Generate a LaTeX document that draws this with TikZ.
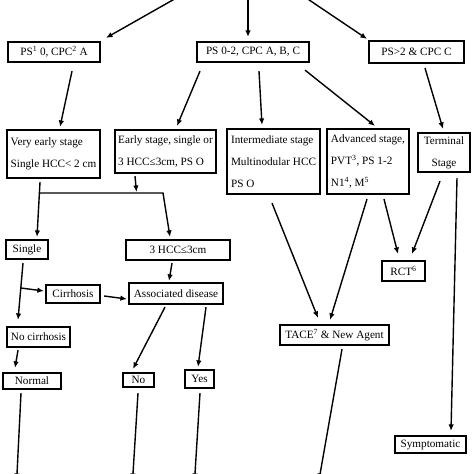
\documentclass[tikz,border=0pt]{standalone}
\usepackage{fontspec}
\setmainfont{Liberation Serif}
\usetikzlibrary{arrows.meta,calc}
\begin{document}
\begin{tikzpicture}[x=1pt,y=-1pt,
  box/.style={draw, line width=2.2pt, inner sep=1pt, align=left, font=\fontsize{11.2pt}{22pt}\selectfont},
  cbox/.style={box, align=center},
  conn/.style={line width=1.4pt, -{Latex[length=6.5pt,width=5.5pt]}},
  plain/.style={line width=1.4pt}]
\useasboundingbox (0,0) rectangle (474,474);
\clip (0,0) rectangle (474,474);

% row 1
\node[box, minimum width=92pt, minimum height=20pt] (ps1) at (54,52) {PS\textsuperscript{1} 0, CPC\textsuperscript{2} A};
\node[box, minimum width=112pt, minimum height=20pt] (ps02) at (253,52) {PS 0-2, CPC A, B, C};
\node[box, minimum width=95pt, minimum height=22pt] (ps2) at (416.5,52) {PS>2 \& CPC C};

% row 2
\node[box, minimum width=93pt, minimum height=48pt] (vearly) at (53.5,154) {Very early stage\\Single HCC< 2 cm};
\node[box, minimum width=101pt, minimum height=43pt] (early) at (165.5,151.5) {Early stage, single or\\3 HCC≤3cm, PS O};
\node[box, minimum width=93pt, minimum height=65pt] (inter) at (273.5,161.5) {Intermediate stage\\Multinodular HCC\\PS O};
\node[box, minimum width=82pt, minimum height=65pt] (adv) at (368,161.5) {Advanced stage,\\ PVT\textsuperscript{3}, PS 1-2\\N1\textsuperscript{4}, M\textsuperscript{5}};
\node[cbox, minimum width=52pt, minimum height=39pt] (term) at (444,152.5) {Terminal\\Stage};

% row 3
\node[box, minimum width=42pt, minimum height=19pt] (single) at (27,249.5) {Single};
\node[box, minimum width=104pt, minimum height=20pt] (hcc3) at (178,250) {3 HCC≤3cm};
\node[box, minimum width=54pt, minimum height=18pt] (cirr) at (73,294) {Cirrhosis};
\node[box, minimum width=94pt, minimum height=21pt] (assoc) at (176,293.5) {Associated disease};
\node[box, minimum width=63pt, minimum height=20pt] (nocirr) at (38.5,337) {No cirrhosis};
\node[box, minimum width=58pt, minimum height=16pt] (normal) at (32,381) {Normal};
\node[box, minimum width=31pt, minimum height=14pt] (no) at (138.5,380) {No};
\node[box, minimum width=29pt, minimum height=18pt] (yes) at (199.5,379) {Yes};
\node[box, minimum width=43pt, minimum height=20pt] (rct) at (403.5,271) {RCT\textsuperscript{6}};
\node[box, minimum width=109pt, minimum height=20pt] (tace) at (334.5,335) {TACE\textsuperscript{7} \& New Agent};
\node[box, minimum width=71pt, minimum height=17pt] (symp) at (430.5,444.5) {Symptomatic};

% free ends
\coordinate (t1) at (181.6,-5);
\coordinate (t2) at (248,-5);
\coordinate (t3) at (301.75,-5);
\coordinate (e1) at (16.7,480);
\coordinate (e2) at (132.6,480);
\coordinate (e3) at (194.6,480);
\coordinate (e4) at (319,480);
\coordinate (jl) at (39.5,193);
\coordinate (jr) at (163,193);
\coordinate (jm) at (136.5,192);
\coordinate (sb) at (20.8,288);

% top connectors
\draw[conn] (t1) -- ([shift={(52,-3)}]ps1.north);
\draw[conn] (t2) -- ([shift={(-5,-4)}]ps02.north);
\draw[conn] (t3) -- ([shift={(-49.5,-1)}]ps2.north);

% row 1 -> row 2
\draw[conn] ([shift={(18,8)}]ps1.south) -- ([shift={(6.5,-2)}]vearly.north);
\draw[conn] ([shift={(-53,8)}]ps02.south) -- ([shift={(11.5,-3)}]early.north);
\draw[conn] ([shift={(6,8)}]ps02.south) -- ([shift={(-11.5,-3)}]inter.north);
\draw[conn] ([shift={(52,7)}]ps02.south) -- ([shift={(7,-2)}]adv.north);
\draw[conn] ([shift={(8.5,4)}]ps2.south) -- ([shift={(-1,-3)}]term.north);

% left branch
\draw[conn] ([shift={(-13.5,3)}]vearly.south) -- ([shift={(10,-2)}]single.north);
\draw[conn] ([shift={(-30.5,2)}]early.south) -- (jm);
\draw[conn] (jl) -- (jr) -- ([shift={(-8,-2)}]hcc3.north);
\draw[conn] ([shift={(-4,3)}]single.south) -- ([shift={(-20.5,-6)}]nocirr.north);
\draw[conn] (sb) -- ([shift={(-1,-3)}]cirr.west);
\draw[conn] ([shift={(3,2)}]cirr.east) -- ([shift={(-1,5.5)}]assoc.west);
\draw[conn] ([shift={(-6,2)}]hcc3.south) -- ([shift={(-7,-1)}]assoc.north);
\draw[conn] ([shift={(-11,2)}]assoc.south) -- ([shift={(-5.5,-3)}]no.north);
\draw[conn] ([shift={(30,2)}]assoc.south) -- ([shift={(-1.5,-2)}]yes.north);
\draw[conn] ([shift={(-20.5,2)}]nocirr.south) -- ([shift={(-17,-4)}]normal.north);
\draw[conn] ([shift={(-11,3)}]normal.south) -- (e1);
\draw[conn] ([shift={(-0.5,5)}]no.south) -- (e2);
\draw[conn] ([shift={(0.5,4)}]yes.south) -- (e3);

% right branch
\draw[conn] ([shift={(-1.5,8)}]inter.south) -- ([shift={(-16.5,-6)}]tace.north);
\draw[conn] ([shift={(-1,4)}]adv.south) -- ([shift={(-4.5,-4)}]tace.north);
\draw[conn] ([shift={(16,4)}]adv.south) -- ([shift={(-5.5,-6)}]rct.north);
\draw[conn] ([shift={(-4,8)}]term.south) -- ([shift={(8.5,-6)}]rct.north);
\draw[conn] ([shift={(13,5)}]term.south) -- ([shift={(20.5,-4)}]symp.north);
\draw[conn] ([shift={(7.5,3)}]tace.south) -- (e4);
\end{tikzpicture}
\end{document}
